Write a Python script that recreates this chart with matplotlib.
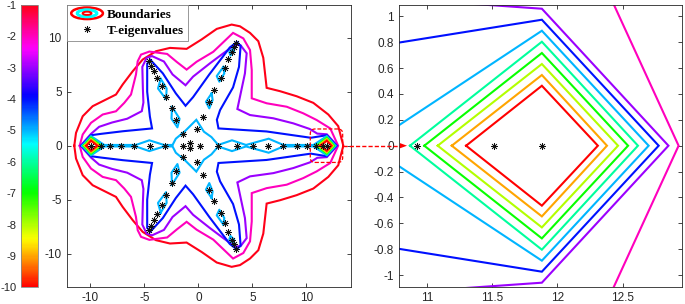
import matplotlib
matplotlib.use("Agg")
import matplotlib.pyplot as plt
import matplotlib.colors as mcolors
import matplotlib.cm as cm
from matplotlib.patches import Ellipse, FancyBboxPatch, Polygon
from matplotlib.legend_handler import HandlerBase
from matplotlib.lines import Line2D
from matplotlib.ticker import FuncFormatter

# ---------------- data ----------------
levels = [-1, -2, -3, -4, -5, -6, -7, -8, -9, -10]
cbar_ticks = [-1, -2, -3, -4, -5, -6, -7, -8, -9, -10]
left_xticks = [-10, -5, 0, 5, 10]
left_yticks = [-10, -5, 0, 5, 10]
right_xticks = [11, 11.5, 12, 12.5]
right_yticks = [-1, -0.8, -0.6, -0.4, -0.2, 0, 0.2, 0.4, 0.6, 0.8, 1]

# upper halves of the boundaries (the lower halves are their mirror images)
bnd_m1 = [(-11.5, 0), (-11.34, 1.19), (-10.72, 2.73), (-9.80, 3.66), (-8.56, 4.28),
          (-7.64, 4.74), (-7.02, 5.67), (-6.09, 6.90), (-5.17, 7.98), (-3.94, 8.75),
          (-2.64, 9.06), (-1.1, 8.97), (0.3, 9.85), (1.69, 10.82), (3.07, 11.22),
          (3.84, 11.06), (4.77, 10.45), (5.54, 9.68), (6.0, 8.14), (6.31, 5.36),
          (7.55, 5.05), (9.09, 4.58), (10.63, 3.97), (12.02, 2.89), (12.94, 1.81),
          (13.26, 0.57), (13.41, 0)]
bnd_m2 = [(-11.0, 0), (-10.72, 1.04), (-9.95, 2.12), (-8.87, 2.89), (-7.64, 3.19),
          (-6.87, 3.97), (-6.25, 4.74), (-5.79, 6.59), (-5.63, 7.82), (-5.32, 8.44),
          (-4.55, 8.72), (-2.9, 8.5), (-2.0, 7.75), (-1.1, 7.05), (-0.17, 7.78),
          (1.37, 8.7), (3.2, 10.45), (4.15, 9.94), (4.77, 8.86), (4.93, 7.01),
          (4.93, 4.39), (6.31, 3.93), (8.17, 3.61), (9.7, 3.0), (10.94, 2.38),
          (12.2, 1.6), (12.93, 0)]
bnd_m3 = [(-10.92, 0), (-9.95, 1.1), (-9.2, 1.75), (-8.0, 2.15), (-6.6, 2.5),
          (-5.25, 3.2), (-5.1, 4.0), (-5.15, 5.3), (-5.2, 7.3), (-4.8, 8.15),
          (-4.3, 8.3), (-3.2, 7.8), (-2.4, 6.6), (-1.2, 5.6), (-0.5, 6.4),
          (1.06, 7.63), (2.3, 8.56), (3.4, 9.35), (3.9, 9.3), (4.46, 8.56),
          (4.3, 6.7), (3.6, 3.4), (4.77, 2.84), (6.93, 2.54), (8.78, 2.07),
          (10.3, 1.55), (11.0, 1.12), (11.88, 1.058), (12.852, 0)]
bnd_m4 = [(-10.85, 0), (-9.95, 0.973), (-9.0, 1.1), (-7.0, 1.34), (-4.3, 1.6),
          (-4.5, 2.7), (-4.75, 5.0), (-4.75, 7.6), (-4.45, 7.95), (-3.3, 6.7),
          (-2.1, 4.85), (-1.2, 3.7), (-0.5, 4.5), (1.0, 6.6), (2.9, 9.1),
          (3.55, 9.6), (3.9, 9.25), (3.75, 7.3), (3.2, 5.4), (2.0, 3.3),
          (1.7, 2.4), (1.85, 1.6), (6.3, 1.32), (10.4, 0.735), (11.88, 0.973),
          (12.777, 0)]
bnd_m5 = [(-10.77, 0), (-9.95, 0.888), (-8.72, 0.07), (-5.8, 0.07), (-4.55, 0.5),
          (-3.2, 0.07), (-2.4, 0.07), (-2.1, 0.65), (-1.2, 1.4), (-0.2, 2.4),
          (0.5, 1.3), (1.2, 0.8), (1.83, 0.07), (3.1, 0.5), (4.4, 0.07),
          (6.5, 0.65), (7.85, 0.07), (10.65, 0.07), (11.88, 0.888), (12.70, 0)]
isl_m5_a = [(-3.5, 6.2), (-2.95, 5.3), (-3.0, 4.3), (-3.75, 5.3), (-3.5, 6.2)]
isl_m5_b = [(-2.45, 3.6), (-1.75, 2.5), (-1.95, 1.7), (-2.5, 2.5), (-2.45, 3.6)]
isl_m5_c = [(2.3, 7.3), (2.39, 6.7), (1.93, 5.93), (1.69, 6.45), (2.3, 7.3)]
isl_m5_d = [(1.22, 4.85), (1.31, 4.23), (1.0, 3.46), (0.69, 4.07), (1.22, 4.85)]
isl_m5_e = [(3.2, 9.0), (3.3, 8.7), (2.95, 8.35), (2.85, 8.7), (3.2, 9.0)]
tip_m6 = [[(-10.688, 0), (-9.95, 0.803), (-8.937, 0)], [(10.867, 0), (11.88, 0.803), (12.618, 0)]]
tip_m7 = [[(-10.612, 0), (-9.95, 0.716), (-9.047, 0)], [(10.977, 0), (11.88, 0.716), (12.542, 0)]]
tip_m8 = [[(-10.535, 0), (-9.95, 0.631), (-9.15, 0)], [(11.08, 0), (11.88, 0.631), (12.465, 0)]]
tip_m9 = [[(-10.45, 0), (-9.95, 0.546), (-9.258, 0)], [(11.188, 0), (11.88, 0.546), (12.38, 0)]]
tip_m10 = [[(-10.38, 0), (-9.95, 0.463), (-9.368, 0)], [(11.298, 0), (11.88, 0.463), (12.31, 0)]]

eig_real = [-9.95, -9.0, -8.2, -7.15, -5.95, -4.5, -3.08, -1.46, 0.14, 1.83, 3.54,
            5.07, 6.46, 7.85, 9.09, 10.05, 10.92, 11.51, 11.88]
eig_up_x = [-4.55, -4.4, -4.15, -3.87, -3.4, -3.05, -2.48, -2.05, -1.41, -0.79,
            3.45, 3.25, 3.07, 2.76, 2.45, 2.04, 1.48, 0.97, 0.39, -0.17]
eig_up_y = [7.8, 7.4, 6.9, 6.3, 5.5, 4.55, 3.46, 2.35, 1.05, 0.22,
            9.55, 9.15, 8.7, 8.03, 7.17, 6.27, 5.16, 4.07, 2.7, 1.52]

# ---------------- helpers ----------------
def mirrored_closed(pts):
    xs = [p[0] for p in pts]
    ys = [p[1] for p in pts]
    lx = xs + xs[-2:0:-1] + [xs[0]]
    ly = ys + [-y for y in ys[-2:0:-1]] + [ys[0]]
    return lx, ly

level_curves = {
    -1: [("half", bnd_m1)],
    -2: [("half", bnd_m2)],
    -3: [("half", bnd_m3)],
    -4: [("half", bnd_m4)],
    -5: [("half", bnd_m5)] + [("island", p) for p in (isl_m5_a, isl_m5_b, isl_m5_c, isl_m5_d, isl_m5_e)],
    -6: [("half", p) for p in tip_m6],
    -7: [("half", p) for p in tip_m7],
    -8: [("half", p) for p in tip_m8],
    -9: [("half", p) for p in tip_m9],
    -10: [("half", p) for p in tip_m10],
}

cmap = plt.get_cmap("hsv")
norm = mcolors.Normalize(vmin=-10, vmax=-1)
TXT = "#262626"


def draw(ax, lw):
    for lev in levels:
        col = cmap(norm(lev))
        for kind, pts in level_curves[lev]:
            if kind == "half":
                x, y = mirrored_closed(pts)
                ax.plot(x, y, color=col, lw=lw, solid_joinstyle="miter", zorder=2)
            else:
                x = [p[0] for p in pts]
                y = [p[1] for p in pts]
                ax.plot(x, y, color=col, lw=lw, zorder=2)
                ax.plot(x, [-v for v in y], color=col, lw=lw, zorder=2)
    ex = eig_real + eig_up_x + eig_up_x
    ey = [0] * len(eig_real) + eig_up_y + [-v for v in eig_up_y]
    ax.plot(ex, ey, linestyle="none", marker=(8, 2, 0), ms=5, mew=0.5,
            color="#111111", zorder=3)


def style(ax):
    ax.tick_params(direction="in", length=3, width=0.6, top=True, right=True,
                   labelsize=8.5, colors=TXT, pad=4)
    for s in ax.spines.values():
        s.set_color(TXT)
        s.set_linewidth(0.6)
    for lab in ax.get_xticklabels() + ax.get_yticklabels():
        lab.set_fontfamily("Liberation Sans")


fig = plt.figure(figsize=(6.85, 3.04), dpi=100)

axL = fig.add_axes([0.0982, 0.0569, 0.4142, 0.9276])
axR = fig.add_axes([0.5829, 0.0569, 0.4127, 0.9276])
cax = fig.add_axes([0.0302, 0.0549, 0.0257, 0.9286])

draw(axL, 1.5)
draw(axR, 1.5)

axL.set_xlim(-12.15, 14.12)
axL.set_ylim(-13.06, 13.06)
axL.set_xticks(left_xticks)
axL.set_yticks(left_yticks)
axR.set_xlim(10.785, 12.956)
axR.set_ylim(-1.089, 1.089)
axR.set_xticks(right_xticks)
axR.set_yticks(right_yticks)
fmt = FuncFormatter(lambda v, p: f"{v:g}")
for a in (axL, axR):
    a.xaxis.set_major_formatter(fmt)
    a.yaxis.set_major_formatter(fmt)
    style(a)

# zoom rectangle
rect = FancyBboxPatch((10.35, -1.55), 3.0, 3.1,
                      boxstyle="round,pad=0,rounding_size=0.45",
                      fill=False, edgecolor="red", lw=0.9, linestyle=(0, (3, 1.5)), zorder=4)
axL.add_patch(rect)

# connecting arrow (figure pixel coordinates -> fraction)
W, H = 685.0, 304.0
ya = 1 - 145.7 / H
fig.add_artist(Line2D([343 / W, 400 / W], [ya, ya], transform=fig.transFigure,
                      color="red", lw=1.0, linestyle=(0, (3, 1.5))))
fig.add_artist(Polygon([[400 / W, ya + 2.6 / H], [407 / W, ya], [400 / W, ya - 2.6 / H]],
                       closed=True, transform=fig.transFigure, color="red", lw=0))

# colorbar
sm = cm.ScalarMappable(norm=norm, cmap=cmap)
cb = fig.colorbar(sm, cax=cax, ticks=cbar_ticks)
cax.yaxis.set_ticks_position("left")
cax.yaxis.set_major_formatter(fmt)
cax.tick_params(direction="in", length=0, labelsize=8, colors=TXT, pad=3)
cb.outline.set_edgecolor("#888888")
cb.outline.set_linewidth(0.6)
for lab in cax.get_yticklabels():
    lab.set_fontfamily("Liberation Sans")


# legend
class BoundaryIcon:
    pass


class BoundaryHandler(HandlerBase):
    def create_artists(self, legend, orig_handle, xdescent, ydescent, width, height,
                       fontsize, trans):
        cx = width / 2 - xdescent
        cy = height / 2 - ydescent
        arts = []
        for w, h, c, lw in [(width * 1.0, height * 1.25, "red", 1.8),
                            (width * 0.62, height * 0.75, "cyan", 2.2),
                            (width * 0.28, height * 0.35, "red", 1.4)]:
            arts.append(Ellipse((cx, cy), w, h, fill=False, edgecolor=c, lw=lw,
                                transform=trans))
        return arts


eig_handle = Line2D([], [], linestyle="none", marker=(8, 2, 0), ms=5, mew=0.5, color="#111111")
leg = axL.legend([BoundaryIcon(), eig_handle], ["Boundaries", "T-eigenvalues"],
                 handler_map={BoundaryIcon: BoundaryHandler()},
                 loc="upper left", bbox_to_anchor=(0, 1), borderaxespad=0.0,
                 prop={"family": "Liberation Serif", "weight": "bold", "size": 9.5},
                 fancybox=False, edgecolor="#888888", framealpha=1,
                 handlelength=2.4, handletextpad=0.3, labelspacing=0.3,
                 borderpad=0.3)
leg.get_frame().set_linewidth(0.6)
leg.set_zorder(5)

fig.savefig("out.png", dpi=100)
